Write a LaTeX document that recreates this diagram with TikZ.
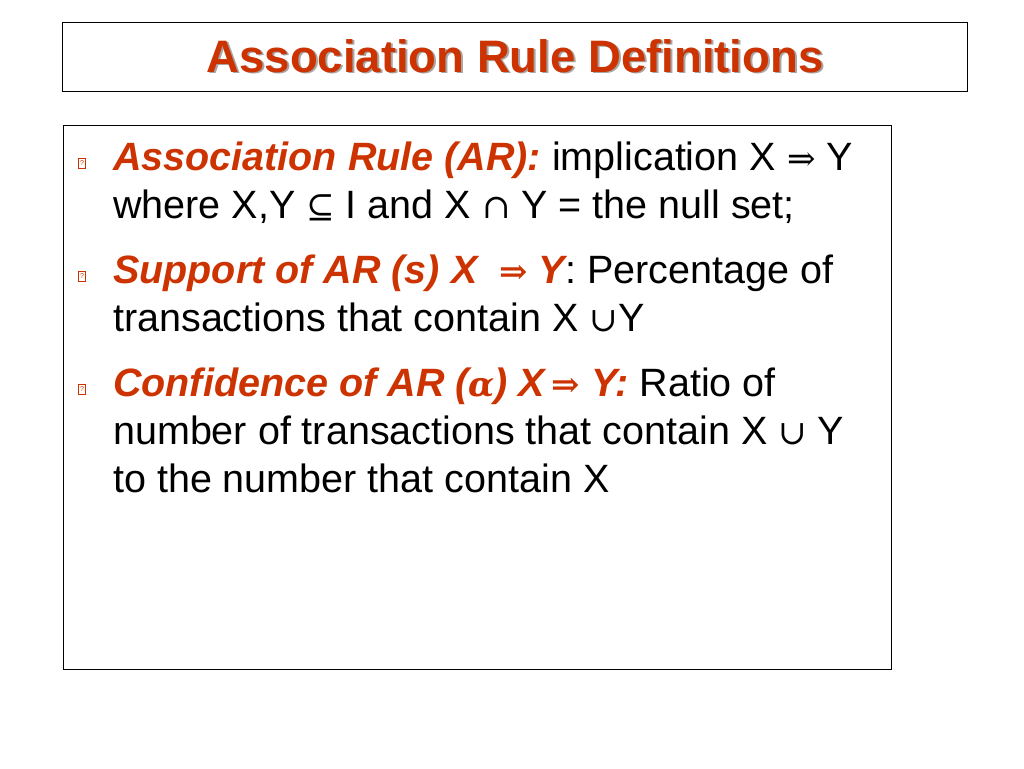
\documentclass[tikz,border=0pt]{standalone}
\usepackage{fontspec}
\setmainfont{Liberation Sans}
\newfontfamily\symf{DejaVu Serif}
\definecolor{ttl}{HTML}{CC3300}
\newcommand{\sy}[1]{{\symf\fontsize{34}{40}\selectfont #1}}
\begin{document}
\begin{tikzpicture}[x=1pt,y=-1pt,
  ln/.style={anchor=base west,inner sep=0,font=\fontsize{39.5}{46}\selectfont},
  bul/.style={draw=ttl,line width=0.5pt,minimum width=7pt,minimum height=10pt,inner sep=0,font=\fontsize{7}{8}\selectfont,text=ttl}]
\useasboundingbox (0,0) rectangle (1024,768);
\draw[line width=0.8pt] (62,22) rectangle (967,91);
\node[anchor=base,inner sep=0,text=gray!70,font=\fontsize{45.5}{50}\bfseries] at (517,74) {Association Rule Definitions};
\node (title) [anchor=base,inner sep=0,text=ttl,font=\fontsize{45.5}{50}\bfseries] at (515,72) {Association Rule Definitions};
\draw[line width=0.8pt] (63,125) rectangle (891,669);
\newcommand{\hl}[1]{\textcolor{ttl}{\bfseries\itshape #1}}
\node (b1) [bul] at (82,163) {?};
\node (b2) [bul] at (82,276) {?};
\node (b3) [bul] at (82,389) {?};
\node (l1) [ln] at (113,170) {\hl{Association Rule (AR):} implication X \sy{⇒} Y};
\node (l2) [ln] at (113,218) {where X,Y \sy{⊆} I and X \sy{∩} Y = the null set;};
\node (l3) [ln] at (113,283) {\hl{Support of AR (s) X \ \sy{⇒} Y}: Percentage of};
\node (l4) [ln] at (113,331) {transactions that contain X \sy{∪}Y};
\node (l5) [ln] at (113,396) {\hl{Confidence of AR (\sy{\itshape α}) X\,\sy{⇒} Y:} Ratio of};
\node (l6) [ln] at (113,444) {number of transactions that contain X \sy{∪} Y};
\node (l7) [ln] at (113,492) {to the number that contain X};
\end{tikzpicture}
\end{document}
